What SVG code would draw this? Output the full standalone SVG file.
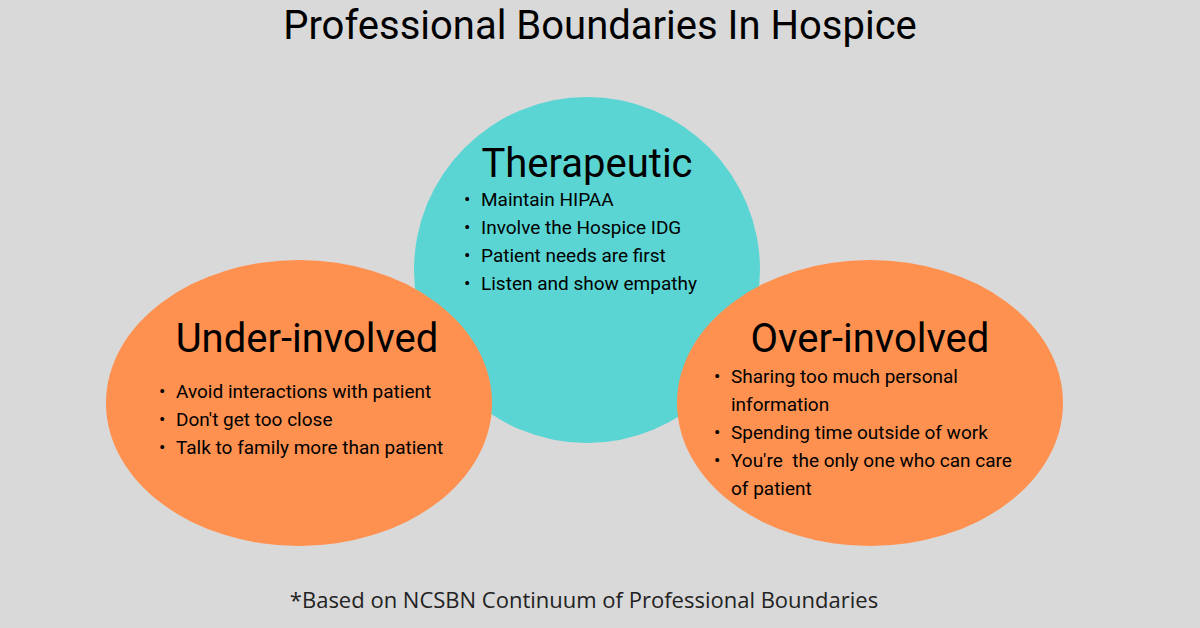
<svg xmlns="http://www.w3.org/2000/svg" width="1200" height="628" viewBox="0 0 1200 628">
<style>
.h{font-family:Roboto,"Liberation Sans",sans-serif;font-size:40px;fill:#000;text-anchor:middle}
.b{font-family:Roboto,"Liberation Sans",sans-serif;font-size:19px;fill:#000}
.f{font-family:"Open Sans","Liberation Sans",sans-serif;font-size:22px;fill:#222;text-anchor:middle}
</style>
<rect width="1200" height="628" fill="#d9d9d9"/>
<text class="h" x="600" y="39" font-size="38">Professional Boundaries In Hospice</text>
<g id="therapeutic">
<circle cx="587" cy="270" r="173" fill="#5ad5d4"/>
<text class="h" x="587" y="177">Therapeutic</text>
<g class="b">
<text x="464" y="206">•</text><text x="481" y="206">Maintain HIPAA</text>
<text x="464" y="234">•</text><text x="481" y="234">Involve the Hospice IDG</text>
<text x="464" y="262">•</text><text x="481" y="262">Patient needs are first</text>
<text x="464" y="290">•</text><text x="481" y="290">Listen and show empathy</text>
</g>
</g>
<g id="under">
<ellipse cx="299" cy="403" rx="193" ry="143" fill="#ff9150"/>
<text class="h" x="307" y="352">Under-involved</text>
<g class="b">
<text x="159" y="398">•</text><text x="176" y="398">Avoid interactions with patient</text>
<text x="159" y="426">•</text><text x="176" y="426">Don't get too close</text>
<text x="159" y="454">•</text><text x="176" y="454">Talk to family more than patient</text>
</g>
</g>
<g id="over">
<ellipse cx="870" cy="403" rx="193" ry="143" fill="#ff9150"/>
<text class="h" x="870" y="352">Over-involved</text>
<g class="b">
<text x="714" y="383">•</text><text x="731" y="383">Sharing too much personal</text>
<text x="731" y="411">information</text>
<text x="714" y="439">•</text><text x="731" y="439">Spending time outside of work</text>
<text x="714" y="467">•</text><text x="731" y="467" xml:space="preserve">You're  the only one who can care</text>
<text x="731" y="495">of patient</text>
</g>
</g>
<g id="connectors"/>
<text class="f" x="584" y="608">*Based on NCSBN Continuum of Professional Boundaries</text>
</svg>
